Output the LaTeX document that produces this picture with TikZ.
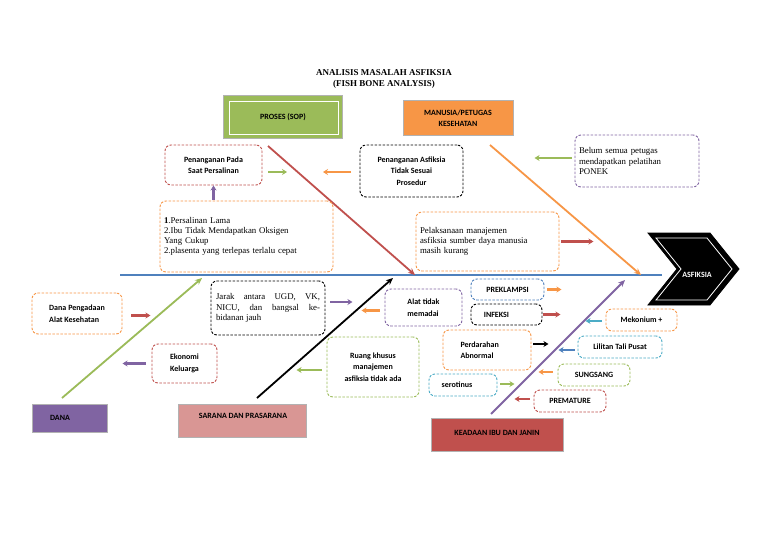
\documentclass[tikz,border=0pt]{standalone}
\usepackage{fontspec}
\setmainfont{Liberation Serif}
\newfontfamily\lab{Carlito}
\usetikzlibrary{arrows.meta}
\definecolor{cgreen}{HTML}{9BBB59}
\definecolor{corange}{HTML}{F79646}
\definecolor{cred}{HTML}{C0504D}
\definecolor{cpurple}{HTML}{8064A2}
\definecolor{cblue}{HTML}{4F81BD}
\definecolor{cpink}{HTML}{D99694}
\definecolor{ccyan}{HTML}{4BACC6}
\tikzset{
 dbox/.style={draw=#1, dashed, rounded corners=6pt, line width=0.9pt, dash pattern=on 2.5pt off 1.5pt, fill=white, align=center, font=\lab\bfseries\fontsize{8}{11.5}\selectfont, inner sep=2pt},
 sbox/.style={draw=#1, dashed, rounded corners=6pt, line width=0.9pt, dash pattern=on 2.5pt off 1.5pt, fill=white, align=left, font=\fontsize{8.8}{10.2}\selectfont, inner sep=4pt},
 cat/.style={fill=#1, draw=gray!60, line width=0.6pt, font=\lab\bfseries\fontsize{8}{11.5}\selectfont, align=center},
 bone/.style={draw=#1, line width=1.8pt, -{Stealth[length=7pt,width=6pt]}},
 sa/.style={draw=#1, line width=2.2pt, -{Stealth[length=5pt,width=6pt]}},
}
\begin{document}
\begin{tikzpicture}[x=1pt,y=-1pt]
\useasboundingbox (0,0) rectangle (768,543);
\fill[white] (0,0) rectangle (768,543);
% title
\node[font=\bfseries\fontsize{9}{11.5}\selectfont, align=center] (title) at (384,79) {ANALISIS MASALAH ASFIKSIA\\(FISH BONE ANALYSIS)};
% spine
\coordinate (sL) at (120,275); \coordinate (sR) at (662,275);
\draw[cblue, line width=2.2pt] (sL) -- (sR);
% head
\draw[fill=black, draw=black, line width=0.8pt] (648,233)--(710,233)--(739,269)--(710,305)--(648,305)--(677,269)--cycle;
\draw[white, line width=0.8pt] (656,238)--(707,238)--(732,269)--(707,300)--(656,300)--(681,269)--cycle;
\node[text=white, font=\lab\bfseries\fontsize{8}{9}\selectfont] (head) at (697,275) {ASFIKSIA};
% categories
\node[cat=cgreen, minimum width=119pt, minimum height=43pt] (proses) at (283,117) {PROSES (SOP)};
\draw[white, line width=0.8pt] (229,101) rectangle (338,134);
\node[cat=corange, minimum width=110pt, minimum height=35pt] (manusia) at (458,118) {MANUSIA/PETUGAS\\KESEHATAN};
\node[cat=cpurple, minimum width=75pt, minimum height=28pt] (dana) at (70,418) {\hspace*{-20pt}DANA};
\node[cat=cpink, minimum width=128pt, minimum height=33pt] (sarana) at (242,421) {};
\node[font=\lab\bfseries\fontsize{8}{9}\selectfont] (saranatxt) at (243,416) {SARANA DAN PRASARANA};
\node[cat=cred, minimum width=132pt, minimum height=33pt] (keadaan) at (497,435) {\raisebox{4pt}{KEADAAN IBU DAN JANIN}};
% bones
\coordinate (b1s) at (268,146); \coordinate (b1e) at (415,275);
\coordinate (b2s) at (490,145); \coordinate (b2e) at (641,275);
\coordinate (b3s) at (62,398); \coordinate (b3e) at (202,278);
\coordinate (b4s) at (257,398); \coordinate (b4e) at (393,278);
\coordinate (b5s) at (491,414); \coordinate (b5e) at (625,280);
\draw[bone=cred] (b1s) -- (b1e);
\draw[bone=corange] (b2s) -- (b2e);
\draw[bone=cgreen] (b3s) -- (b3e);
\draw[bone=black] (b4s) -- (b4e);
\draw[bone=cpurple] (b5s) -- (b5e);
% boxes
\node[dbox=cred, minimum width=97pt, minimum height=40pt] (pada) at (213.5,165) {Penanganan Pada\\Saat Persalinan};
\node[dbox=black, minimum width=103pt, minimum height=52pt] (tidak) at (411.5,171) {Penanganan Asfiksia\\Tidak Sesuai\\Prosedur};
\node[sbox=corange, minimum width=173pt, minimum height=71pt, text width=165pt] (lama) at (246.5,236.5) {\textbf{1}.Persalinan Lama\\2.Ibu Tidak Mendapatkan Oksigen\\Yang Cukup\\2.plasenta yang terlepas terlalu cepat};
\node[sbox=cpurple, minimum width=124pt, minimum height=52pt, text width=116pt] (belum) at (637,161) {Belum semua petugas\\mendapatkan pelatihan\\PONEK};
\node[sbox=corange, minimum width=143pt, minimum height=59pt, text width=135pt] (pelak) at (487.5,241.5) {Pelaksanaan manajemen\\asfiksia sumber daya manusia\\masih kurang};
\node[dbox=corange, minimum width=90pt, minimum height=41pt, align=left] (pengadaan) at (77,313.5) {Dana Pengadaan\\Alat Kesehatan};
\node[dbox=cred, minimum width=65pt, minimum height=39pt, align=left] (ekonomi) at (184.5,363.5) {Ekonomi\\Keluarga};
\node[sbox=black, minimum width=114pt, minimum height=54pt, text width=104pt, align=justify] (jarak) at (268,308) {\hyphenpenalty=10000 Jarak antara UGD, VK, NICU, dan bangsal kebidanan jauh};
\node[dbox=cpurple, minimum width=77pt, minimum height=37pt, align=left] (alat) at (423.5,307.5) {Alat tidak\\memadai};
\node[dbox=cgreen, minimum width=92pt, minimum height=60pt] (ruang) at (373,367) {Ruang khusus\\manajemen\\asfiksia tidak ada};
\node[dbox=cblue, minimum width=73pt, minimum height=21pt] (prek) at (507.5,289.5) {PREKLAMPSI};
\node[dbox=black, minimum width=71pt, minimum height=21pt, align=left] (infeksi) at (506.5,314.5) {\hspace*{-20pt}INFEKSI};
\node[dbox=corange, minimum width=88pt, minimum height=40pt, align=left] (perd) at (487,350) {Perdarahan\\Abnormal\hspace*{20pt}};
\node[dbox=ccyan, minimum width=68pt, minimum height=22pt] (sero) at (463,385) {serotinus\hspace*{12pt}};
\node[dbox=corange, minimum width=71pt, minimum height=22pt] (mek) at (641.5,320) {Mekonium +};
\node[dbox=ccyan, minimum width=84pt, minimum height=22pt] (lilit) at (620,347) {Lilitan Tali Pusat};
\node[dbox=cgreen, minimum width=72pt, minimum height=22pt] (sung) at (594,375) {SUNGSANG};
\node[dbox=cred, minimum width=72pt, minimum height=22pt] (prem) at (570,401) {PREMATURE};
% small arrows
\draw[sa=cpurple] (lama.north -| pada.south) ++(0,-1) -- (pada.south);
\draw[sa=cgreen] (268,172) -- (287,172);
\draw[sa=corange] (351,172) -- (323,172);
\draw[sa=cgreen] (belum.west) ++(-3,-3) -- ++(-37,0);
\draw[sa=cred] (pelak.east) ++(2,0) -- ++(32,0);
\draw[sa=cred] (pengadaan.east) ++(9,2) -- ++(19,0);
\draw[sa=cpurple] (ekonomi.west) ++(-6,0) -- ++(-23,0);
\draw[sa=cpurple] (jarak.east) ++(5,-6) -- ++(22,0);
\draw[sa=corange] (alat.west) ++(-5,3) -- ++(-18,0);
\draw[sa=cgreen] (ruang.west) ++(-5,3) -- ++(-25,0);
\draw[sa=corange] (prek.east) ++(3,0) -- ++(14,0);
\draw[sa=cred] (infeksi.east) ++(1,0) -- ++(17,0);
\draw[sa=black] (perd.east) ++(2,-6) -- ++(15,0);
\draw[sa=cgreen] (sero.east) ++(3,-1) -- ++(14,0);
\draw[sa=ccyan] (mek.west) ++(-4,1) -- ++(-16,0);
\draw[sa=cblue] (lilit.west) ++(-3,3) -- ++(-16,0);
\draw[sa=corange] (sung.west) ++(-5,-3) -- ++(-14,0);
\draw[sa=cred] (prem.west) ++(-4,-2) -- ++(-15,0);
\end{tikzpicture}
\end{document}
